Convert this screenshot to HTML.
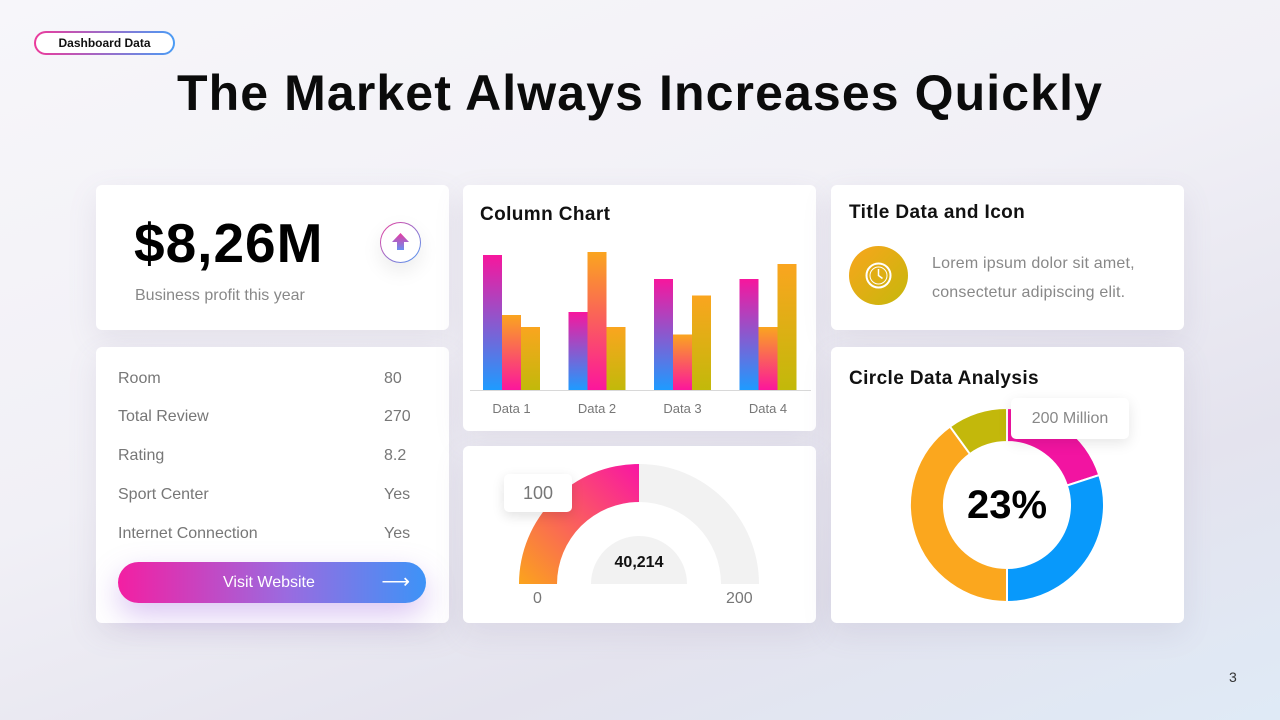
<!DOCTYPE html>
<html><head><meta charset="utf-8">
<style>
*{margin:0;padding:0;box-sizing:border-box}
body{width:1280px;height:720px;overflow:hidden;position:relative;font-family:"Liberation Sans",sans-serif;
background:linear-gradient(160deg,#f7f6fa 0%,#f1f0f6 45%,#e4e3ee 75%,#dfeaf6 100%);}
.card{position:absolute;background:#fff;border-radius:6px;box-shadow:0 10px 30px rgba(120,110,150,0.12)}
.t{position:absolute;white-space:nowrap}
.h{font-weight:bold;color:#111;font-size:19px;letter-spacing:0.4px}
.row{position:absolute;left:22px;font-size:16px;color:#777;width:320px}
.row span:last-child{position:absolute;left:266px}
</style></head><body>
<div class="t" style="left:34px;top:31px;width:141px;height:24px;border-radius:12px;border:2px solid transparent;background:linear-gradient(#fff,#fff) padding-box,linear-gradient(90deg,#ec3a9b,#4a9cf5) border-box;font-size:12px;font-weight:bold;color:#111;text-align:center;line-height:20px">Dashboard Data</div>
<div class="t" style="left:0;width:1280px;top:64px;text-align:center;font-size:50px;letter-spacing:1.1px;font-weight:bold;color:#0b0b0b">The Market Always Increases Quickly</div>

<div class="card" style="left:96px;top:185px;width:353px;height:145px">
 <div class="t" style="left:38px;top:26px;font-size:55px;letter-spacing:1px;font-weight:bold;color:#000">$8,26M</div>
 <div class="t" style="left:39px;top:102px;font-size:16px;color:#888">Business profit this year</div>
 <div style="position:absolute;left:284px;top:37px;width:41px;height:41px;border-radius:50%;border:1px solid transparent;background:linear-gradient(#fff,#fff) padding-box,linear-gradient(135deg,#ec3a9b,#4a9cf5) border-box;box-shadow:0 8px 20px rgba(0,0,0,0.08)">
  <svg width="39" height="39" viewBox="0 0 39 39"><defs><linearGradient id="ag" x1="0" y1="0" x2="0" y2="1"><stop offset="0" stop-color="#e83aa0"/><stop offset="1" stop-color="#6a8ef0"/></linearGradient></defs><path d="M19.5 10 L28 19 L23 19 L23 27 L16 27 L16 19 L11 19Z" fill="url(#ag)"/></svg>
 </div>
</div>

<div class="card" style="left:96px;top:347px;width:353px;height:276px">
 <div class="row" style="top:23px"><span>Room</span><span>80</span></div>
 <div class="row" style="top:61px"><span>Total Review</span><span>270</span></div>
 <div class="row" style="top:100px"><span>Rating</span><span>8.2</span></div>
 <div class="row" style="top:139px"><span>Sport Center</span><span>Yes</span></div>
 <div class="row" style="top:178px"><span>Internet Connection</span><span>Yes</span></div>
 <div style="position:absolute;left:22px;top:215px;width:308px;height:41px;border-radius:21px;background:linear-gradient(90deg,#f31fa2,#9a6be0 55%,#3d93f7);color:#fff;font-size:16px;line-height:41px;box-shadow:0 12px 30px rgba(150,90,220,0.35)">
  <span class="t" style="left:105px">Visit Website</span><span class="t" style="right:16px;font-size:20px">⟶</span>
 </div>
</div>

<div class="card" style="left:463px;top:185px;width:353px;height:246px">
 <div class="t h" style="left:17px;top:19px">Column Chart</div>
 <svg id="cc" width="353" height="246" style="position:absolute;left:0;top:0">
  <defs>
   <linearGradient id="g1" x1="0" y1="0" x2="0" y2="1"><stop offset="0" stop-color="#f7169d"/><stop offset="1" stop-color="#1e9bff"/></linearGradient>
   <linearGradient id="g2" x1="0" y1="0" x2="0" y2="1"><stop offset="0" stop-color="#faa51f"/><stop offset="1" stop-color="#fb169c"/></linearGradient>
   <linearGradient id="g3" x1="0" y1="0" x2="0" y2="1"><stop offset="0" stop-color="#faa51f"/><stop offset="1" stop-color="#c2b90a"/></linearGradient>
  </defs>
 </svg>
</div>

<div class="card" style="left:463px;top:446px;width:353px;height:177px">
 <svg id="gs" width="353" height="177" style="position:absolute;left:0;top:0">
  <defs><linearGradient id="gg" x1="0" y1="1" x2="1" y2="0"><stop offset="0" stop-color="#fba41c"/><stop offset="1" stop-color="#f915a4"/></linearGradient></defs>
 </svg>
 <div class="t" style="left:41px;top:28px;width:68px;height:38px;background:#fff;border-radius:5px;box-shadow:0 4px 12px rgba(0,0,0,0.12);text-align:center;line-height:38px;font-size:18px;color:#777">100</div>
 <div class="t" style="left:126px;width:100px;top:108px;text-align:center;font-size:16px;font-weight:bold;color:#111">40,214</div>
 <div class="t" style="left:70px;top:144px;font-size:16px;color:#777">0</div>
 <div class="t" style="left:263px;top:144px;font-size:16px;color:#777">200</div>
</div>

<div class="card" style="left:831px;top:185px;width:353px;height:145px">
 <div class="t h" style="left:18px;top:17px">Title Data and Icon</div>
 <div style="position:absolute;left:18px;top:61px;width:59px;height:59px;border-radius:50%;background:linear-gradient(135deg,#f9a51d,#c5b80b)">
  <svg width="59" height="59"><circle cx="29.5" cy="29.5" r="12" fill="none" stroke="#fff" stroke-width="2"/><circle cx="29.5" cy="29.5" r="8.5" fill="none" stroke="#fff" stroke-width="1"/><path d="M29.5 23v6.5l4 3" fill="none" stroke="#fff" stroke-width="1.5"/></svg>
 </div>
 <div class="t" style="left:101px;top:64px;font-size:16px;color:#888;line-height:29px;letter-spacing:0.2px">Lorem ipsum dolor sit amet,<br>consectetur adipiscing elit.</div>
</div>

<div class="card" style="left:831px;top:347px;width:353px;height:276px">
 <div class="t h" style="left:18px;top:21px">Circle Data Analysis</div>
 <svg id="dn" width="353" height="276" style="position:absolute;left:0;top:0"></svg>
 <div class="t" style="left:106px;width:140px;top:136px;text-align:center;font-size:40px;font-weight:bold;color:#000">23%</div>
 <div class="t" style="left:180px;top:51px;width:118px;height:41px;background:#fff;border-radius:5px;box-shadow:0 4px 14px rgba(0,0,0,0.1);text-align:center;line-height:41px;font-size:16px;color:#888">200 Million</div>
</div>

<div class="t" style="left:1229px;top:669px;font-size:14px;color:#333">3</div>

<script>
const NS='http://www.w3.org/2000/svg';
// Column chart data
const categories=['Data 1','Data 2','Data 3','Data 4'];
const series1=[90,52,74,74];
const series2=[50,92,37,42];
const series3=[42,42,63,84];
const colChart=document.getElementById('cc');
const baseY=205, pxPerUnit=1.5, groupX0=20, groupStep=85.5, barW=19;
const yScale=v=>baseY-v*pxPerUnit;
const ax=document.createElementNS(NS,'line');
ax.setAttribute('x1',7);ax.setAttribute('x2',348);ax.setAttribute('y1',baseY+0.5);ax.setAttribute('y2',baseY+0.5);
ax.setAttribute('stroke','#d8d8d8');


colChart.appendChild(ax);
const allSeries=[series1,series2,series3];
const fills=['url(#g1)','url(#g2)','url(#g3)'];
categories.forEach((c,i)=>{
 allSeries.forEach((s,j)=>{
  const r=document.createElementNS(NS,'rect');
  const x=groupX0+i*groupStep+j*barW;
  r.setAttribute('x',x);r.setAttribute('y',yScale(s[i]));r.setAttribute('width',barW);r.setAttribute('height',baseY-yScale(s[i]));
  r.setAttribute('fill',fills[j]);
  
  
  colChart.appendChild(r);
 });
 const t=document.createElementNS(NS,'text');
 t.setAttribute('x',groupX0+i*groupStep+barW*1.5);t.setAttribute('y',228);t.setAttribute('text-anchor','middle');
 t.setAttribute('font-size','13');t.setAttribute('fill','#777');t.setAttribute('font-family','Liberation Sans, sans-serif');
 t.textContent=c;
 
 
 colChart.appendChild(t);
});

// Gauge data
const gaugeValue=[100];
const gaugeMax=[200];
const gs=document.getElementById('gs');
const gcx=176,gcy=138,rO=120,rI=82,rC=48;
function arcPath(a0,a1,ro,ri,cx,cy){
 const p=(a,r)=>[cx-r*Math.cos(a),cy-r*Math.sin(a)];
 const [x0,y0]=p(a0,ro),[x1,y1]=p(a1,ro),[x2,y2]=p(a1,ri),[x3,y3]=p(a0,ri);
 const lg=(a1-a0)>Math.PI?1:0;
 return `M${x0} ${y0}A${ro} ${ro} 0 ${lg} 1 ${x1} ${y1}L${x2} ${y2}A${ri} ${ri} 0 ${lg} 0 ${x3} ${y3}Z`;
}
const gaugeAngle=Math.PI*gaugeValue[0]/gaugeMax[0];
const bg=document.createElementNS(NS,'path');
bg.setAttribute('d',arcPath(0,Math.PI,rO,rI,gcx,gcy));bg.setAttribute('fill','#f2f2f2');


gs.appendChild(bg);
const fg=document.createElementNS(NS,'path');
fg.setAttribute('d',arcPath(0,gaugeAngle,rO,rI,gcx,gcy));fg.setAttribute('fill','url(#gg)');


gs.appendChild(fg);
const ic=document.createElementNS(NS,'path');
ic.setAttribute('d',`M${gcx-rC} ${gcy}A${rC} ${rC} 0 0 1 ${gcx+rC} ${gcy}Z`);ic.setAttribute('fill','#f2f2f2');


gs.appendChild(ic);

// Donut data
const donutLabels=['Pink','Blue','Orange','Olive'];
const donutValues=[20,30,40,10];
const donutColors=['#f214a1','#0899fb','#fba71e','#c3b80b'];
const dn=document.getElementById('dn');
const dcx=176,dcy=158,dRo=97,dRi=63;
const total=donutValues.reduce((a,b)=>a+b,0);
let acc=0;
donutValues.forEach((v,i)=>{
 const a0=acc/total*2*Math.PI, a1=(acc+v)/total*2*Math.PI; acc+=v;
 const p=(a,r)=>[dcx+r*Math.sin(a),dcy-r*Math.cos(a)];
 const [x0,y0]=p(a0,dRo),[x1,y1]=p(a1,dRo),[x2,y2]=p(a1,dRi),[x3,y3]=p(a0,dRi);
 const lg=(a1-a0)>Math.PI?1:0;
 const path=document.createElementNS(NS,'path');
 path.setAttribute('d',`M${x0} ${y0}A${dRo} ${dRo} 0 ${lg} 1 ${x1} ${y1}L${x2} ${y2}A${dRi} ${dRi} 0 ${lg} 0 ${x3} ${y3}Z`);
 path.setAttribute('fill',donutColors[i]);path.setAttribute('stroke','#fff');path.setAttribute('stroke-width','2');
 
 
 dn.appendChild(path);
});
</script>
</body></html>
